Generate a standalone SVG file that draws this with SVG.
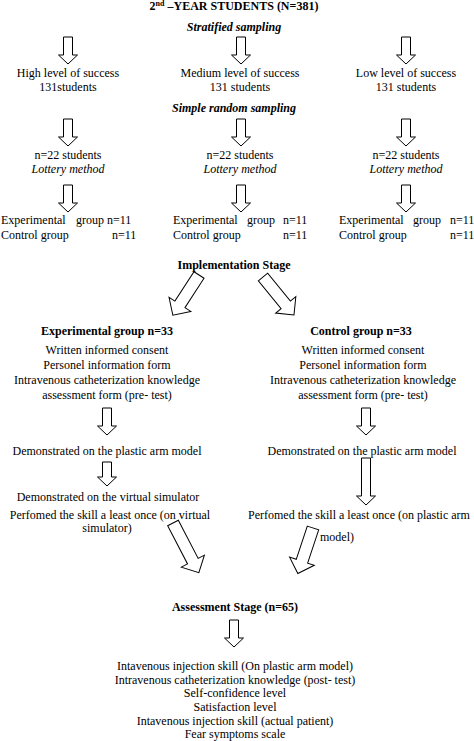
<svg xmlns="http://www.w3.org/2000/svg" width="474" height="741" viewBox="0 0 474 741">
<style>
text{font-family:"Liberation Serif","Times New Roman",serif;font-size:12px;fill:#000}
.c{text-anchor:middle}
.b{font-weight:bold}
.i{font-style:italic}
.arr{fill:#fff;stroke:#000;stroke-width:1}
</style>
<defs>
<path id="dn" d="M-4.5,0 H4.5 V18 H9.5 L0,27 L-9.5,18 H-4.5 Z"/>
</defs>
<rect width="474" height="741" fill="#fff"/>
<g id="title"><text class="c b" x="234" y="10">2<tspan font-size="8" dy="-4">nd</tspan><tspan dy="4"> –YEAR STUDENTS (N=381)</tspan></text></g>
<g id="stratified"><text class="c b i" x="234" y="31">Stratified sampling</text></g>
<g id="high"><text class="c" x="68" y="77">High level of success</text><text class="c" x="68" y="91">131students</text></g>
<g id="medium"><text class="c" x="240" y="77">Medium level of success</text><text class="c" x="240" y="91">131 students</text></g>
<g id="low"><text class="c" x="406" y="77">Low level of success</text><text class="c" x="406" y="91">131 students</text></g>
<g id="simple"><text class="c b i" x="234" y="112">Simple random sampling</text></g>
<g id="n22a"><text class="c" x="68" y="159">n=22 students</text><text class="c i" x="68" y="173">Lottery method</text></g>
<g id="n22b"><text class="c" x="240" y="159">n=22 students</text><text class="c i" x="240" y="173">Lottery method</text></g>
<g id="n22c"><text class="c" x="406" y="159">n=22 students</text><text class="c i" x="406" y="173">Lottery method</text></g>
<g id="groupsA"><text x="1" y="224">Experimental</text><text x="76" y="224">group</text><text x="107" y="224">n=11</text><text x="1" y="239">Control group</text><text x="112" y="239">n=11</text></g>
<g id="groupsB"><text x="173" y="224">Experimental</text><text x="247" y="224">group</text><text x="283" y="224">n=11</text><text x="173" y="239">Control group</text><text x="283" y="239">n=11</text></g>
<g id="groupsC"><text x="339" y="224">Experimental</text><text x="413" y="224">group</text><text x="450" y="224">n=11</text><text x="339" y="239">Control group</text><text x="450" y="239">n=11</text></g>
<g id="implementation"><text class="c b" x="234" y="269">Implementation Stage</text></g>
<g id="expgroup"><text class="c b" x="107" y="335">Experimental group n=33</text>
<text class="c" x="107" y="354">Written informed consent</text>
<text class="c" x="107" y="369">Personel information form</text>
<text class="c" x="107" y="384">Intravenous catheterization knowledge</text>
<text class="c" x="107" y="399">assessment form (pre- test)</text></g>
<g id="ctrlgroup"><text class="c b" x="361" y="335">Control group n=33</text>
<text class="c" x="363" y="354">Written informed consent</text>
<text class="c" x="363" y="369">Personel information form</text>
<text class="c" x="363" y="384">Intravenous catheterization knowledge</text>
<text class="c" x="363" y="399">assessment form (pre- test)</text></g>
<g id="expdemo1"><text class="c" x="107" y="455">Demonstrated on the plastic arm model</text></g>
<g id="ctrldemo1"><text class="c" x="362" y="455">Demonstrated on the plastic arm model</text></g>
<g id="expdemo2"><text class="c" x="108" y="501">Demonstrated on the virtual simulator</text></g>
<g id="expskill"><text class="c" x="110" y="519">Perfomed the skill a least once (on virtual</text><text class="c" x="107" y="532">simulator)</text></g>
<g id="ctrlskill"><text x="248" y="519">Perfomed the skill a least once (on plastic arm</text><text class="c" x="337" y="541">model)</text></g>
<g id="assessment"><text class="c b" x="235" y="611">Assessment Stage (n=65)</text></g>
<g id="outcomes">
<text class="c" x="235" y="670">Intavenous injection skill (On plastic arm model)</text>
<text class="c" x="235" y="684">Intravenous catheterization knowledge (post- test)</text>
<text class="c" x="235" y="697">Self-confidence level</text>
<text class="c" x="235" y="711">Satisfaction level</text>
<text class="c" x="235" y="725">Intavenous injection skill (actual patient)</text>
<text class="c" x="235" y="738">Fear symptoms scale</text></g>
<g id="connectors">
<use href="#dn" class="arr" x="68" y="37"/>
<use href="#dn" class="arr" x="241" y="37"/>
<use href="#dn" class="arr" x="406" y="37"/>
<use href="#dn" class="arr" x="68" y="119"/>
<use href="#dn" class="arr" x="241" y="119"/>
<use href="#dn" class="arr" x="406" y="119"/>
<use href="#dn" class="arr" x="68" y="185"/>
<use href="#dn" class="arr" x="241" y="185"/>
<use href="#dn" class="arr" x="406" y="185"/>
<use href="#dn" class="arr" x="107" y="408"/>
<use href="#dn" class="arr" x="366" y="408"/>
<path class="arr" d="M102.5,462 H111.5 V477 H116.5 L107,486 L97.5,477 H102.5 Z"/>
<path class="arr" d="M361.5,458 H370.5 V496 H375.5 L366,505 L356.5,496 H361.5 Z"/>
<use href="#dn" class="arr" x="234" y="620"/>
<polygon class="arr" points="-6,0 6,0 6,35 13,35 0,48 -13,35 -6,35" transform="translate(199,275) rotate(33)"/>
<polygon class="arr" points="-6,0 6,0 6,36 13,36 0,49 -13,36 -6,36" transform="translate(263,277) rotate(-39.2)"/>
<polygon class="arr" points="-6,0 6,0 6,43 13,43 0,56 -13,43 -6,43" transform="translate(173,523) rotate(-27.5)"/>
<polygon class="arr" points="-6,0 6,0 6,35 13,35 0,48 -13,35 -6,35" transform="translate(313,528) rotate(18.4)"/>
</g>
</svg>
